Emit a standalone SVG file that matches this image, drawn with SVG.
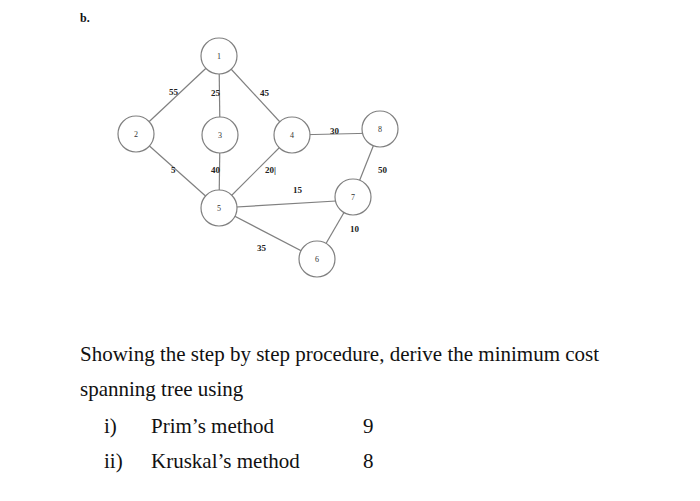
<svg xmlns="http://www.w3.org/2000/svg" width="700" height="501" viewBox="0 0 700 501">
<style>
.n circle{fill:#fff;stroke:#808080;stroke-width:1.2}
.n text{font-family:"Liberation Serif",serif;font-size:8px;fill:#333;text-anchor:middle}
.e line{stroke:#808080;stroke-width:1.2}
.w{font-family:"Liberation Serif",serif;font-size:9px;font-weight:bold;fill:#222}
.t{font-family:"Liberation Serif",serif;font-size:21px;fill:#111}
</style>
<rect width="700" height="501" fill="#fff"/>
<text x="80" y="22" font-family="Liberation Serif,serif" font-size="12" font-weight="bold" fill="#111">b.</text>
<g id="edges" class="e">
<line x1="219" y1="56" x2="136" y2="134"/>
<line x1="219" y1="56" x2="220" y2="135"/>
<line x1="219" y1="56" x2="292" y2="135"/>
<line x1="136" y1="134" x2="219" y2="208"/>
<line x1="220" y1="135" x2="219" y2="208"/>
<line x1="292" y1="135" x2="219" y2="208"/>
<line x1="292" y1="135" x2="380" y2="133"/>
<line x1="380" y1="129" x2="353" y2="197"/>
<line x1="219" y1="208" x2="353" y2="200"/>
<line x1="353" y1="197" x2="317" y2="259"/>
<line x1="219" y1="208" x2="317" y2="259"/>
</g>
<g id="weights">
<text class="w" x="169" y="95">55</text>
<text class="w" x="211" y="96">25</text>
<text class="w" x="260" y="96">45</text>
<text class="w" x="171" y="173">5</text>
<text class="w" x="211" y="173">40</text>
<text class="w" x="265" y="173">20|</text>
<text class="w" x="330" y="134">30</text>
<text class="w" x="378" y="173">50</text>
<text class="w" x="293" y="193">15</text>
<text class="w" x="350" y="232">10</text>
<text class="w" x="257" y="251">35</text>
</g>
<g id="n1" class="n"><circle cx="219" cy="56" r="18"/><text x="219" y="59">1</text></g>
<g id="n2" class="n"><circle cx="136" cy="134" r="18"/><text x="136" y="137">2</text></g>
<g id="n3" class="n"><circle cx="220" cy="135" r="18"/><text x="220" y="138">3</text></g>
<g id="n4" class="n"><circle cx="292" cy="135" r="18"/><text x="292" y="138">4</text></g>
<g id="n8" class="n"><circle cx="380" cy="129" r="18"/><text x="380" y="132">8</text></g>
<g id="n7" class="n"><circle cx="353" cy="197" r="18"/><text x="353" y="200">7</text></g>
<g id="n5" class="n"><circle cx="219" cy="208" r="18"/><text x="219" y="211">5</text></g>
<g id="n6" class="n"><circle cx="317" cy="259" r="18"/><text x="317" y="262">6</text></g>
<text class="t" x="80" y="361">Showing the step by step procedure, derive the minimum cost</text>
<text class="t" x="80" y="396">spanning tree using</text>
<text class="t" x="104" y="433">i)</text>
<text class="t" x="151" y="433">Prim’s method</text>
<text class="t" x="363" y="433">9</text>
<text class="t" x="104" y="468">ii)</text>
<text class="t" x="151" y="468">Kruskal’s method</text>
<text class="t" x="363" y="468">8</text>
</svg>
